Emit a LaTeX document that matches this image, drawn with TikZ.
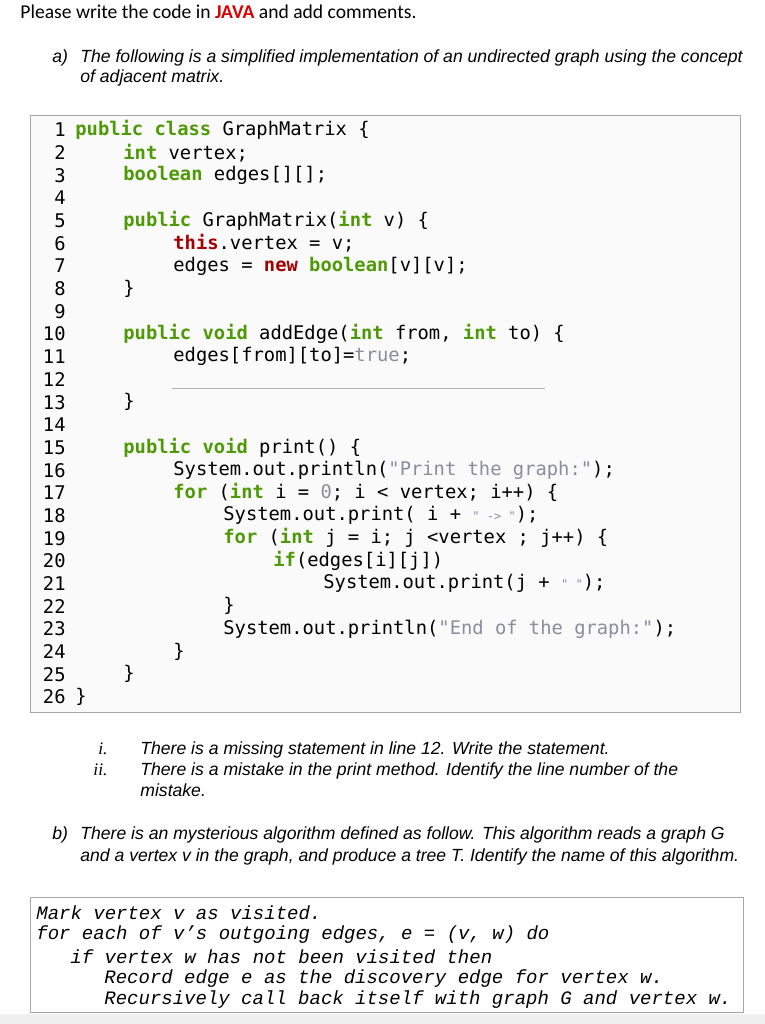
\documentclass[tikz,border=0pt]{standalone}
\usepackage{fontspec}
\setmainfont{Liberation Sans}
\newfontfamily\carlf{Carlito}
\newfontfamily\codef{DejaVu Sans Mono}
\newfontfamily\cour{Liberation Mono}
\newfontfamily\tms{Liberation Serif}
\definecolor{kwg}{HTML}{4E9A06}
\definecolor{kwr}{HTML}{A40000}
\definecolor{strg}{HTML}{8C8CA0}
\newcommand{\kw}[1]{\textcolor{kwg}{\bfseries #1}}
\newcommand{\kr}[1]{\textcolor{kwr}{\bfseries #1}}
\newcommand{\st}[1]{\textcolor{strg}{#1}}
\begin{document}
\begin{tikzpicture}[x=0.5pt,y=-0.5pt,
  code/.style={anchor=west,inner sep=0,font=\codef\fontsize{9.4}{11}\selectfont},
  lnum/.style={anchor=east,inner sep=0,font=\codef\fontsize{9.4}{11}\selectfont},
  para/.style={anchor=base west,inner sep=0,font=\itshape\fontsize{8.8}{10}\selectfont},
  pseudo/.style={anchor=west,inner sep=0,font=\cour\itshape\fontsize{9.5}{11}\selectfont}]
\useasboundingbox (0,0) rectangle (765,1024);
\fill[white] (0,0) rectangle (765,1024);
\fill[gray!12] (0,1014) rectangle (765,1024);
\node[anchor=base west,inner sep=0,font=\carlf\fontsize{9.8}{11}\selectfont] (title) at (20,18)
  {Please write the code in \textcolor{red!85!black}{\bfseries JAVA} and add comments.};
\node[para] (la) at (52,62) {a)};
\node[para] (a1) at (80,62) {The following is a simplified implementation of an undirected graph using the concept};
\node[para] (a2) at (80,82) {of adjacent matrix.};
% code box
\draw[gray!70,fill=gray!4] (30,115) rectangle (740,712);
\foreach \n in {1,...,26}{\node[lnum] (n\n) at (66,{130+(\n-1)*22.68}) {\n};}
\newcommand{\cl}[3]{\node[code] (c#1) at (#2,{130+(#1-1)*22.68}) {#3};}
\cl{1}{75}{\kw{public class} GraphMatrix \{}
\cl{2}{123}{\kw{int} vertex;}
\cl{3}{123}{\kw{boolean} edges[][];}
\cl{5}{123}{\kw{public} GraphMatrix(\kw{int} v) \{}
\cl{6}{173}{\kr{this}.vertex = v;}
\cl{7}{173}{edges = \kr{new} \kw{boolean}[v][v];}
\cl{8}{123}{\}}
\cl{10}{123}{\kw{public void} addEdge(\kw{int} from, \kw{int} to) \{}
\cl{11}{173}{edges[from][to]=\st{true};}
\cl{13}{123}{\}}
\cl{15}{123}{\kw{public void} print() \{}
\cl{16}{173}{System.out.println(\st{"Print the graph:"});}
\cl{17}{173}{\kw{for} (\kw{int} i = \st{0}; i < vertex; i++) \{}
\cl{18}{223}{System.out.print( i + \st{\fontsize{6}{7}\selectfont" -> "});}
\cl{19}{223}{\kw{for} (\kw{int} j = i; j <vertex ; j++) \{}
\cl{20}{273}{\kw{if}(edges[i][j])}
\cl{21}{323}{System.out.print(j + \st{\fontsize{6}{7}\selectfont" "});}
\cl{22}{223}{\}}
\cl{23}{223}{System.out.println(\st{"End of the graph:"});}
\cl{24}{173}{\}}
\cl{25}{123}{\}}
\cl{26}{75}{\}}
\coordinate (bl) at (172,388);
\coordinate (br) at (545,388);
\draw[gray!60] (bl) -- (br);
% questions
\node[anchor=base east,inner sep=0,font=\tms\itshape\fontsize{8.8}{10}\selectfont] (ri) at (108,754) {i.};
\node[anchor=base east,inner sep=0,font=\tms\itshape\fontsize{8.8}{10}\selectfont] (rii) at (108,775) {ii.};
\node[para] (q1) at (140,754) {There is a missing statement in line 12. Write the statement.};
\node[para] (q2) at (140,775) {There is a mistake in the print method. Identify the line number of the};
\node[para] (q3) at (140,796) {mistake.};
\node[para] (lb) at (52,839) {b)};
\node[para] (b1) at (80,839) {There is an mysterious algorithm defined as follow. This algorithm reads a graph G};
\node[para] (b2) at (80,861) {and a vertex v in the graph, and produce a tree T. Identify the name of this algorithm.};
% pseudo box
\draw[gray!70] (30,897) rectangle (743,1012);
\node[pseudo] (p1) at (36,913) {Mark vertex v as visited.};
\node[pseudo] (p2) at (36,935) {for each of v’s outgoing edges, e = (v, w) do};
\node[pseudo] (p3) at (70,957) {if vertex w has not been visited then};
\node[pseudo] (p4) at (104,979) {Record edge e as the discovery edge for vertex w.};
\node[pseudo] (p5) at (104,1000) {Recursively call back itself with graph G and vertex w.};
\end{tikzpicture}
\end{document}
